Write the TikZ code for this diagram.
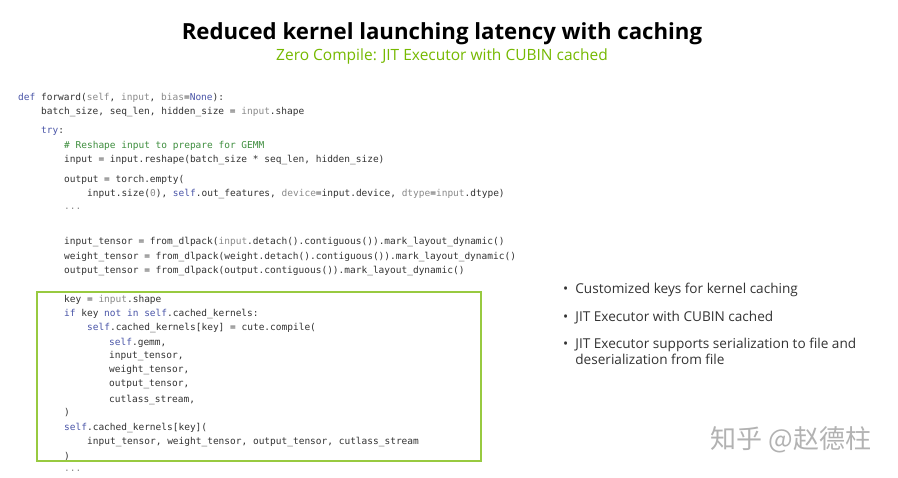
\documentclass[tikz,border=0pt]{standalone}
\usepackage{fontspec}
\setmainfont{Open Sans}
\newfontfamily\codef{DejaVu Sans Mono}
\newfontfamily\cjk{Noto Sans CJK SC}
\begin{document}
\begin{tikzpicture}[x=1pt,y=-1pt,
  cl/.style={anchor=west,inner sep=0pt,font=\codef\fontsize{9.5}{10}\selectfont,text=black!80},
  bl/.style={anchor=west,inner sep=0pt,font=\fontsize{13.6}{16}\selectfont,text=black!80,align=left}]
\definecolor{kw}{HTML}{4A55A8}
\definecolor{cm}{HTML}{3E8E3E}
\definecolor{ag}{HTML}{8A8A8A}
\definecolor{nv}{HTML}{76B900}
\newcommand{\K}[1]{\textcolor{kw}{#1}}
\newcommand{\G}[1]{\textcolor{ag}{#1}}
\useasboundingbox (0,0) rectangle (898,478);
\fill[white] (0,0) rectangle (898,478);
\node[font=\bfseries\fontsize{22.2}{26}\selectfont] (title) at (442,34) {Reduced kernel launching latency with caching};
\node[font=\fontsize{15.5}{18}\selectfont,text=nv] (sub) at (442,56) {Zero Compile: JIT Executor with CUBIN cached};
\begin{scope}[yshift=-1.5pt]
\node[cl] (l1) at (18,96) {\K{def} forward(\G{self}, \G{input}, \G{bias}=\K{None}):};
\node[cl] (l2) at (41,110) {batch\_size, seq\_len, hidden\_size = \G{input}.shape};
\node[cl] (l3) at (41,130) {\K{try}:};
\node[cl] (l4) at (64,144) {\textcolor{cm}{\# Reshape input to prepare for GEMM}};
\node[cl] (l5) at (64,158) {input = input.reshape(batch\_size * seq\_len, hidden\_size)};
\node[cl] (l6) at (64,178) {output = torch.empty(};
\node[cl] (l7) at (87,192) {input.size(\G{0}), \K{self}.out\_features, \G{device}=input.device, \G{dtype}=\G{input}.dtype)};
\node[cl] (l8) at (64,207) {\G{...}};
\node[cl] (l9) at (64,240) {input\_tensor = from\_dlpack(\G{input}.detach().contiguous()).mark\_layout\_dynamic()};
\node[cl] (l10) at (64,255) {weight\_tensor = from\_dlpack(weight.detach().contiguous()).mark\_layout\_dynamic()};
\node[cl] (l11) at (64,269) {output\_tensor = from\_dlpack(output.contiguous()).mark\_layout\_dynamic()};
\node[cl] (l12) at (64,298) {key = \G{input}.shape};
\node[cl] (l13) at (64,312) {\K{if} key \K{not in} \K{self}.cached\_kernels:};
\node[cl] (l14) at (87,326) {\K{self}.cached\_kernels[key] = cute.compile(};
\node[cl] (l15) at (109,341) {\K{self}.gemm,};
\node[cl] (l16) at (109,355) {input\_tensor,};
\node[cl] (l17) at (109,369) {weight\_tensor,};
\node[cl] (l18) at (109,383) {output\_tensor,};
\node[cl] (l19) at (109,398) {cutlass\_stream,};
\node[cl] (l20) at (64,411) {)};
\node[cl] (l21) at (64,426) {\K{self}.cached\_kernels[key](};
\node[cl] (l22) at (87,440) {input\_tensor, weight\_tensor, output\_tensor, cutlass\_stream};
\node[cl] (l23) at (64,455) {)};
\node[cl] (l24) at (64,469) {\G{...}};
\end{scope}
\draw[nv!75!white,line width=1.5pt] (37,292) rectangle (481,461);
\node[bl] (b1) at (563,289.5) {\textbullet\ \ Customized keys for kernel caching};
\node[bl] (b2) at (563,317.5) {\textbullet\ \ JIT Executor with CUBIN cached};
\node[bl,anchor=north west] (b3) at (563,337.5) {\textbullet\ \ JIT Executor supports serialization to file and\\\phantom{\textbullet\ \ }deserialization from file};
\node[font=\cjk\fontsize{26}{30}\selectfont,text=black!30] (wm) at (791,440) {知乎 @赵德柱};
\end{tikzpicture}
\end{document}
